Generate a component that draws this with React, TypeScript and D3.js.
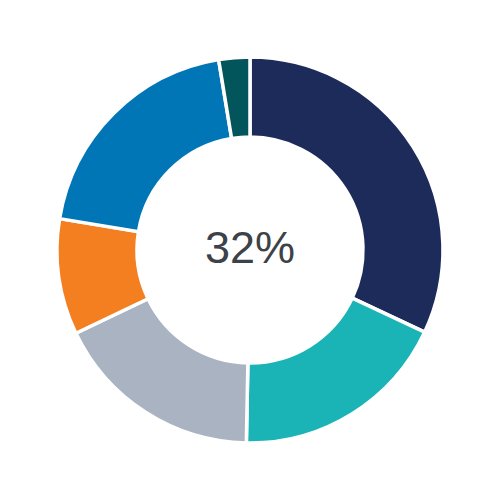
import React, { useRef, useEffect } from 'react';
import * as d3 from 'd3';

const categories = ['A', 'B', 'C', 'D', 'E', 'F'];
const values = [32, 18.3, 17.6, 9.7, 19.8, 2.6];
const colors = ['#1c2b5a', '#1ab4b6', '#a9b3c1', '#f47f20', '#0076b6', '#02555b'];
const centerLabel = '32%';

export default function App() {
  const ref = useRef<SVGSVGElement>(null);

  useEffect(() => {
    const svg = d3.select(ref.current);
    svg.selectAll('*').remove();
    const width = 500, height = 500;
    const g = svg.append('g').attr('transform', 'translate(' + width / 2 + ',' + height / 2 + ')');

    const data = categories.map((c, i) => ({ name: c, value: values[i], color: colors[i] }));
    const pie = d3.pie<any>().sort(null).value(d => d.value);
    const arc = d3.arc<any>().innerRadius(113).outerRadius(193);

    g.selectAll('path')
      .data(pie(data))
      .enter()
      .append('path')
      .attr('d', arc)
      .attr('fill', d => d.data.color)
      .attr('stroke', '#fff')
      .attr('stroke-width', 3.5)
      .attr('stroke-linejoin', 'miter');

    g.append('text')
      .attr('text-anchor', 'middle')
      .attr('y', 13)
      .style('font-family', 'Liberation Sans, Arial, sans-serif')
      .style('font-size', '45px')
      .style('fill', '#3d4148')
      .text(centerLabel);
  }, []);

  return (
    <div style={{ position: 'absolute', left: 0, top: 0, width: 500, height: 500, background: '#fff' }}>
      <svg ref={ref} width={500} height={500}></svg>
    </div>
  );
}
